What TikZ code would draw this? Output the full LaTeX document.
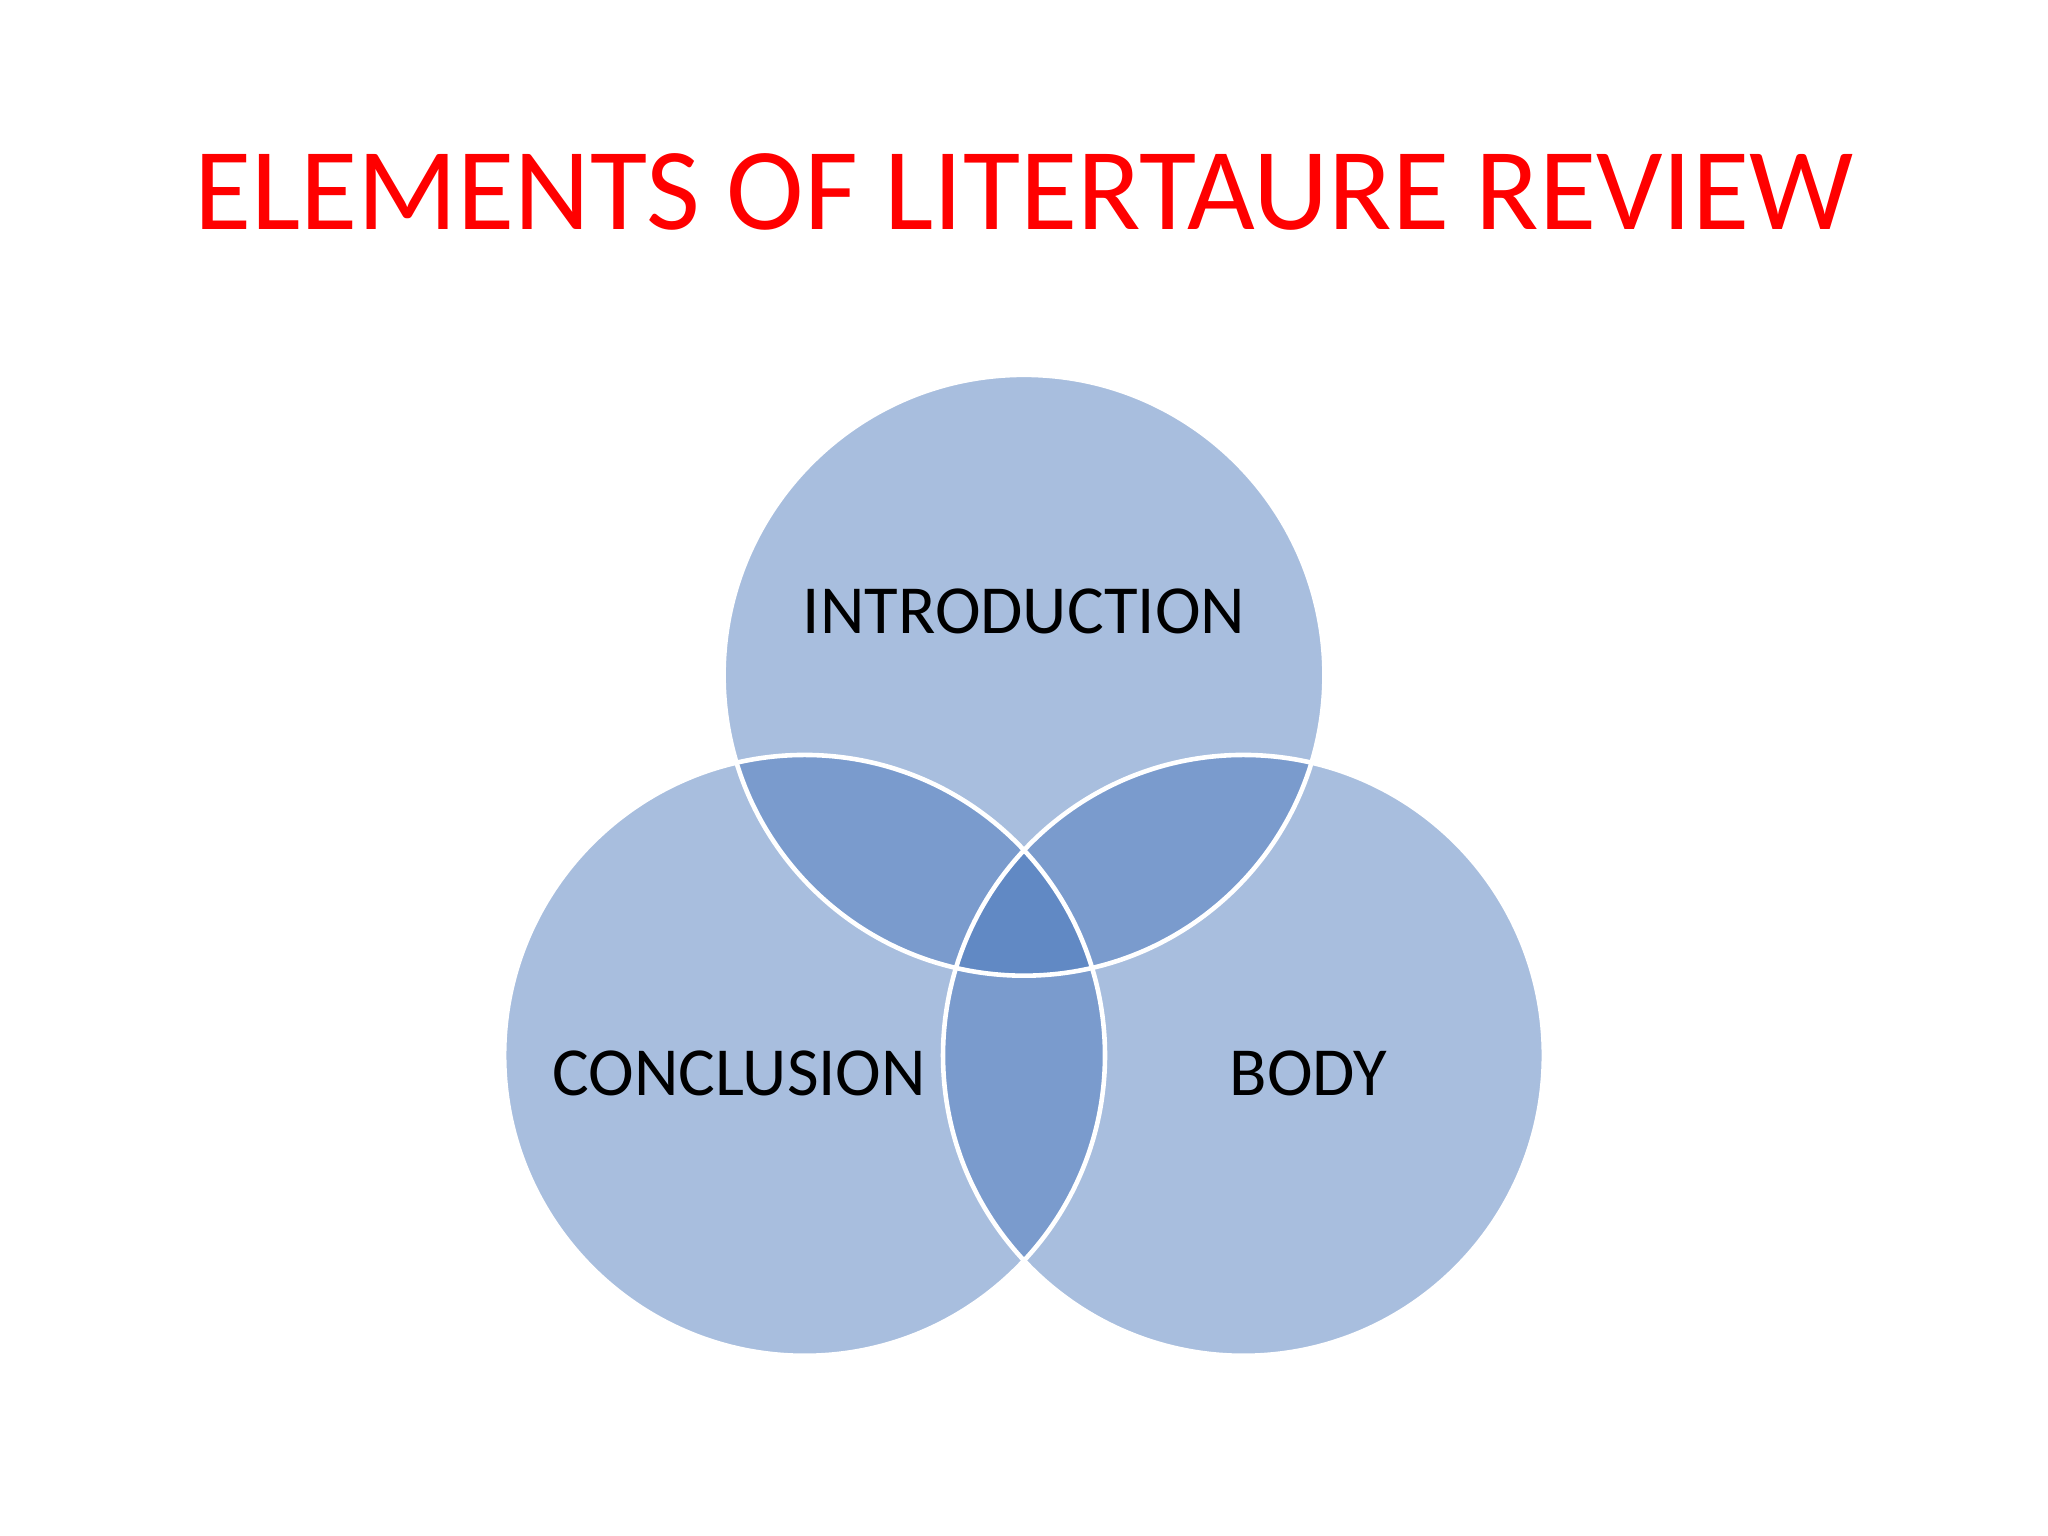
\documentclass[tikz,border=0pt]{standalone}
\usepackage{fontspec}
\setmainfont{Carlito}
\definecolor{vblue}{RGB}{70,117,186}
\definecolor{titlered}{RGB}{255,0,0}
\begin{document}
\begin{tikzpicture}[x=0.02cm,y=-0.02cm,
  venn/.style={fill=vblue,fill opacity=0.465,draw=none},
  rim/.style={draw=white,line width=2pt},
  lbl/.style={font=\fontsize{30}{34}\selectfont,text=black}]
\useasboundingbox[fill=white] (0,0) rectangle (1568,1176);
\fill[venn] (784,517) circle (230);
\fill[venn] (616,808) circle (230);
\fill[venn] (952,808) circle (230);
\draw[rim] (784,517) circle (230);
\draw[rim] (616,808) circle (230);
\draw[rim] (952,808) circle (230);
\node[font=\fontsize{51}{56}\selectfont,text=titlered] (title) at (784,147) {ELEMENTS OF LITERTAURE REVIEW};
\node[lbl] (intro) at (784,468) {INTRODUCTION};
\node[lbl] (concl) at (566,822) {CONCLUSION};
\node[lbl] (body) at (1002,822) {BODY};
\end{tikzpicture}
\end{document}
